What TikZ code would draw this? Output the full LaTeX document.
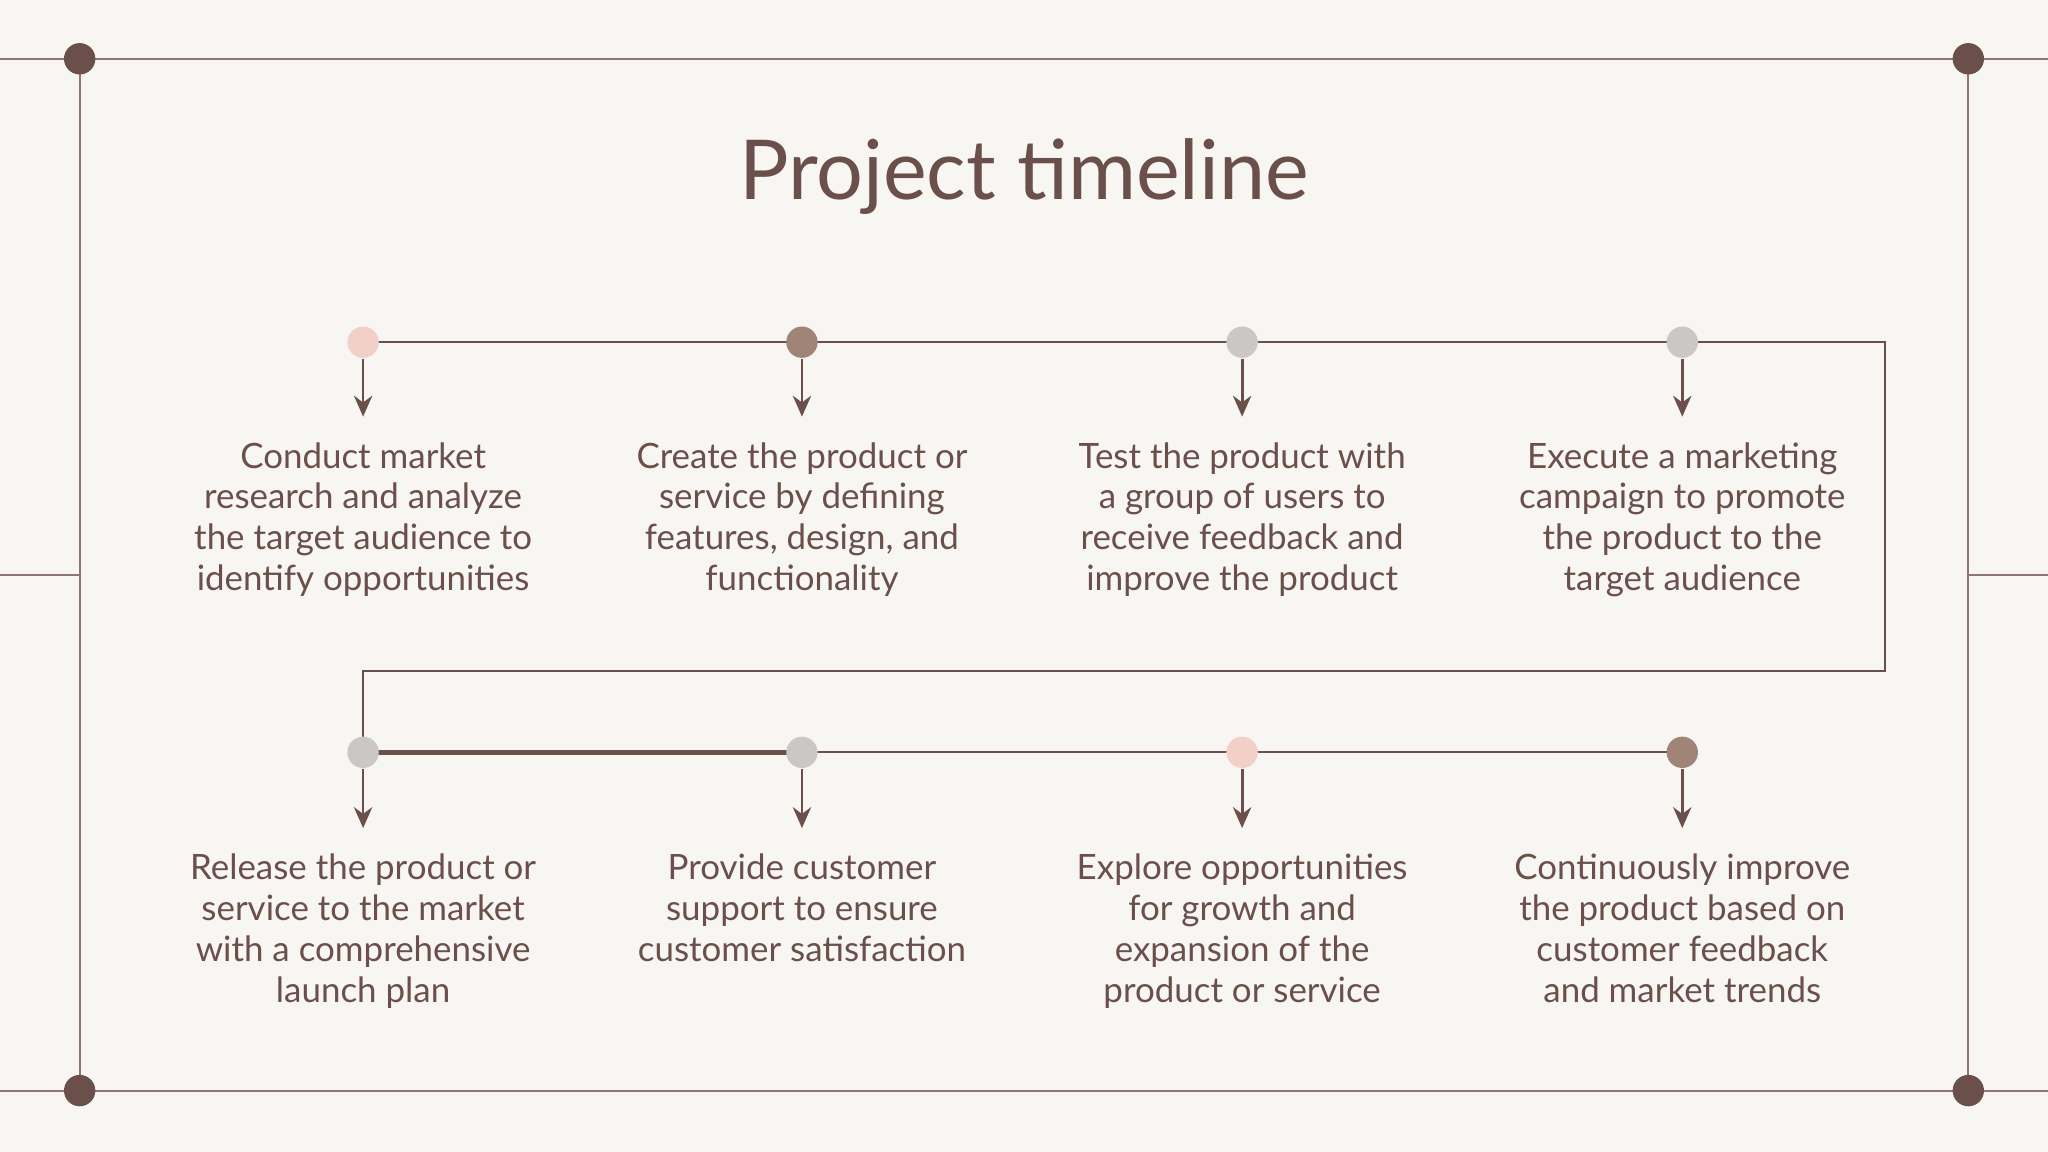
\documentclass[tikz,border=0pt]{standalone}
\usepackage{fontspec}
\setmainfont{Lato}
\usepackage{tikz}
\usetikzlibrary{positioning, arrows.meta}
\definecolor{bgcol}{HTML}{F8F6F2}
\definecolor{ink}{HTML}{6B4F4B}
\definecolor{linecol}{HTML}{8E7472}
\definecolor{dotpink}{HTML}{F2CFC7}
\definecolor{dotbrown}{HTML}{A08478}
\definecolor{dotgray}{HTML}{CBC7C6}
\tikzset{
  stepdot/.style={circle, inner sep=0pt, minimum size=0.24cm},
  cornerdot/.style={circle, fill=ink, inner sep=0pt, minimum size=0.24cm},
  steptext/.style={text=ink, align=center, font=\fontsize{7.6}{8.9}\selectfont, anchor=north, inner sep=0pt},
  stemarrow/.style={ink, semithick, -{Stealth[length=1.6mm, width=1.4mm]}},
}
\begin{document}
\begin{tikzpicture}[x=0.01cm, y=-0.01cm]
            \fill[bgcol] (0,0) rectangle (1568,882);
            \useasboundingbox (0,0) rectangle (1568,882);

            % frame
            \draw[linecol, thin] (0,45) -- (1568,45);
            \draw[linecol, thin] (0,835) -- (1568,835);
            \draw[linecol, thin] (61,45) -- (61,835);
            \draw[linecol, thin] (1507,45) -- (1507,835);
            \draw[linecol, thin] (0,440) -- (61,440);
            \draw[linecol, thin] (1507,440) -- (1568,440);
            \node[cornerdot] (c1) at (61,45) {};
            \node[cornerdot] (c2) at (1507,45) {};
            \node[cornerdot] (c3) at (61,835) {};
            \node[cornerdot] (c4) at (1507,835) {};

            \node[text=ink, font=\fontsize{18}{21}\selectfont] (title) at (784,135) {Project timeline};

            % path
            \coordinate (turn1) at (1443,262);
            \coordinate (turn2) at (1443,514);
            \coordinate (turn3) at (278,514);
            \draw[ink, thin] (278,262) -- (turn1) -- (turn2) -- (turn3) -- (278,576);
            \draw[ink, thin] (278,576) -- (1288,576);
            \draw[ink, line width=1.1pt] (278,576) -- (614,576);

            % row one
            \node[stepdot, fill=dotpink] (d1) at (278,262) {};
            \node[stepdot, fill=dotbrown] (d2) at (614,262) {};
            \node[stepdot, fill=dotgray] (d3) at (951,262) {};
            \node[stepdot, fill=dotgray] (d4) at (1288,262) {};
            % row two
            \node[stepdot, fill=dotgray] (d5) at (278,576) {};
            \node[stepdot, fill=dotgray] (d6) at (614,576) {};
            \node[stepdot, fill=dotpink] (d7) at (951,576) {};
            \node[stepdot, fill=dotbrown] (d8) at (1288,576) {};

            \node[steptext] (t1) at (278,338) {Conduct market\\research and analyze\\the target audience to\\identify opportunities};
            \node[steptext] (t2) at (614,338) {Create the product or\\service by defining\\features, design, and\\functionality};
            \node[steptext] (t3) at (951,338) {Test the product with\\a group of users to\\receive feedback and\\improve the product};
            \node[steptext] (t4) at (1288,338) {Execute a marketing\\campaign to promote\\the product to the\\target audience};
            \node[steptext] (t5) at (278,653) {Release the product or\\service to the market\\with a comprehensive\\launch plan};
            \node[steptext] (t6) at (614,653) {Provide customer\\support to ensure\\customer satisfaction};
            \node[steptext] (t7) at (951,653) {Explore opportunities\\for growth and\\expansion of the\\product or service};
            \node[steptext] (t8) at (1288,653) {Continuously improve\\the product based on\\customer feedback\\and market trends};

            \draw[stemarrow] (d1) -- (278,319);
            \draw[stemarrow] (d2) -- (614,319);
            \draw[stemarrow] (d3) -- (951,319);
            \draw[stemarrow] (d4) -- (1288,319);
            \draw[stemarrow] (d5) -- (278,634);
            \draw[stemarrow] (d6) -- (614,634);
            \draw[stemarrow] (d7) -- (951,634);
            \draw[stemarrow] (d8) -- (1288,634);
        \end{tikzpicture}
\end{document}
